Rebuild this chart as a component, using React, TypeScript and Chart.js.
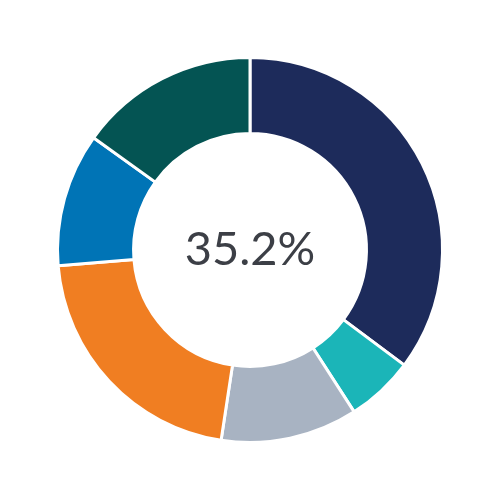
import React, { useEffect, useRef } from 'react';
import Chart from 'chart.js/auto';

// Segment shares (percent), read clockwise from 12 o'clock
const categories = ['Segment A', 'Segment B', 'Segment C', 'Segment D', 'Segment E', 'Segment F'];
const shares = [35.2, 5.7, 11.5, 21.3, 11.2, 15.1];
const colors = ['#1d2b5b', '#1bb5b8', '#a8b3c2', '#f07e22', '#0074b6', '#045453'];
const centerLabel = '35.2%';

const App: React.FC = () => {
  const canvasRef = useRef<HTMLCanvasElement>(null);

  useEffect(() => {
    document.body.style.margin = '0';
    if (!canvasRef.current) return;

    const chart = new Chart(canvasRef.current, {
      type: 'doughnut',
      data: {
        labels: categories,
        datasets: [{
          data: shares,
          backgroundColor: colors,
          borderColor: '#ffffff',
          borderWidth: 3,
          hoverOffset: 0
        }]
      },
      options: {
        responsive: false,
        animation: false,
        cutout: '60.5%',
        layout: { padding: 56 },
        plugins: {
          legend: { display: false },
          tooltip: { enabled: false }
        }
      }
    });

    return () => chart.destroy();
  }, []);

  return (
    <div style={{ position: 'relative', width: 500, height: 500, background: '#ffffff' }}>
      <canvas ref={canvasRef} width={500} height={500}></canvas>
      <div
        style={{
          position: 'absolute',
          left: 0,
          top: 0,
          width: 500,
          height: 494,
          display: 'flex',
          alignItems: 'center',
          justifyContent: 'center',
          fontFamily: 'Lato, sans-serif',
          fontSize: 47,
          color: '#3c3f46',
          pointerEvents: 'none'
        }}
      >
        {centerLabel}
      </div>
    </div>
  );
};

export default App;
